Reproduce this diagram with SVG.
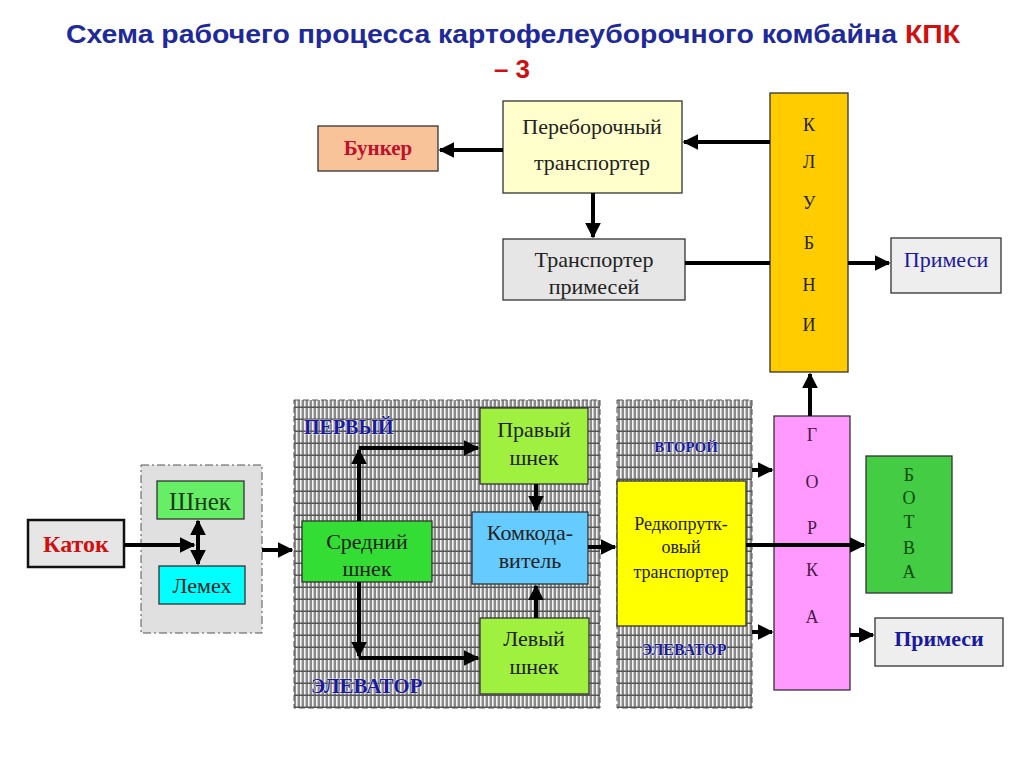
<svg xmlns="http://www.w3.org/2000/svg" width="1024" height="768" viewBox="0 0 1024 768">
<defs>
<pattern id="h" width="4" height="12" patternUnits="userSpaceOnUse"><rect width="4" height="12" fill="#8a8a8a"/><rect x="0" width="1.6" height="12" fill="#f4f4f4"/><rect y="10.5" width="4" height="1.5" fill="#555"/></pattern>
<marker id="a" viewBox="0 0 10 10" refX="9" refY="5" markerWidth="4" markerHeight="4" orient="auto-start-reverse"><path d="M0,0L10,5L0,10z" fill="#000"/></marker>
</defs>
<style>
.b{stroke:#333;stroke-width:1.3}
.t{font-family:"Liberation Serif",serif;font-size:22px;text-anchor:middle;fill:#222}
.l{font-family:"Liberation Serif",serif;font-size:18px;text-anchor:middle}
.c line,.c path{stroke:#000;stroke-width:4;fill:none}
.e{font-family:"Liberation Serif",serif;font-weight:bold;fill:#1a1aa0;stroke:#fff;stroke-width:0.6;paint-order:stroke}
</style>
<rect width="1024" height="768" fill="#fff"/>
<text x="66" y="43" textLength="894" lengthAdjust="spacingAndGlyphs" font-family="Liberation Sans,sans-serif" font-weight="bold" font-size="26" fill="#1f2a9a">Схема рабочего процесса картофелеуборочного комбайна <tspan fill="#d01010">КПК</tspan></text>
<text x="512" y="78" font-family="Liberation Sans,sans-serif" font-weight="bold" font-size="26" fill="#d01010" text-anchor="middle">– 3</text>
<g id="elev1"><rect x="294" y="400" width="306" height="308" fill="url(#h)" stroke="#555" stroke-dasharray="6,3"/>
<text class="e" x="304" y="434" font-size="20">ПЕРВЫЙ</text><text class="e" x="311" y="693" font-size="21">ЭЛЕВАТОР</text></g>
<g id="elev2"><rect x="617" y="400" width="135" height="308" fill="url(#h)" stroke="#555" stroke-dasharray="6,3"/>
<text class="e" x="686" y="452" font-size="15" text-anchor="middle">ВТОРОЙ</text><text class="e" x="684" y="655" font-size="16" text-anchor="middle">ЭЛЕВАТОР</text></g>
<g id="grp"><rect x="141" y="465" width="121" height="168" fill="#e0e0e0" stroke="#555" stroke-dasharray="8,3,2,3"/></g>
<g id="bunker"><rect class="b" x="318" y="126" width="120" height="45" fill="#f9c39a"/><text x="378" y="155" font-family="Liberation Serif,serif" font-weight="bold" font-size="21" fill="#c0102a" text-anchor="middle">Бункер</text></g>
<g id="perebor"><rect class="b" x="503" y="101" width="179" height="92" fill="#ffffcc"/><text class="t" x="592" y="134">Переборочный</text><text class="t" x="592" y="170">транспортер</text></g>
<g id="trpr"><rect class="b" x="503" y="239" width="182" height="61" fill="#e6e6e6"/><text class="t" x="594" y="267">Транспортер</text><text class="t" x="594" y="294">примесей</text></g>
<g id="klubni"><rect class="b" x="770" y="93" width="78" height="279" fill="#ffcc00"/>
<g class="l" fill="#222"><text x="809" y="131">К</text><text x="809" y="168">Л</text><text x="809" y="209">У</text><text x="809" y="249">Б</text><text x="809" y="291">Н</text><text x="809" y="331">И</text></g></g>
<g id="prim1"><rect class="b" x="891" y="238" width="110" height="55" fill="#eeeeee"/><text x="946" y="267" font-family="Liberation Serif,serif" font-size="22" fill="#1a1aa0" text-anchor="middle">Примеси</text></g>
<g id="gorka"><rect class="b" x="774" y="416" width="76" height="274" fill="#ff99ff"/>
<g class="l" fill="#4a1a4a"><text x="812" y="441">Г</text><text x="812" y="488">О</text><text x="812" y="534">Р</text><text x="812" y="576">К</text><text x="812" y="623">А</text></g></g>
<g id="botva"><rect class="b" x="866" y="456" width="86" height="137" fill="#44cc44"/>
<g class="l" fill="#0a4a0a"><text x="909" y="481">Б</text><text x="909" y="504">О</text><text x="909" y="528">Т</text><text x="909" y="554">В</text><text x="909" y="578">А</text></g></g>
<g id="prim2"><rect class="b" x="875" y="618" width="128" height="48" fill="#eeeeee"/><text x="939" y="646" font-family="Liberation Serif,serif" font-weight="bold" font-size="22" fill="#1a1aa0" text-anchor="middle">Примеси</text></g>
<g id="redko"><rect class="b" x="617" y="481" width="129" height="145" fill="#ffff00"/><text class="l" font-size="20" fill="#222" x="681" y="530">Редкопрутк-</text><text class="l" font-size="20" fill="#222" x="681" y="553">овый</text><text class="l" font-size="20" fill="#222" x="681" y="578">транспортер</text></g>
<g id="pravy"><rect class="b" x="480" y="408" width="108" height="76" fill="#a0f040"/><text class="t" x="534" y="437">Правый</text><text class="t" x="534" y="465">шнек</text></g>
<g id="komko"><rect class="b" x="472" y="512" width="116" height="72" fill="#66ccff"/><text class="t" x="530" y="540">Комкода-</text><text class="t" x="530" y="568">витель</text></g>
<g id="levy"><rect class="b" x="480" y="618" width="109" height="76" fill="#a0f040"/><text class="t" x="534" y="646">Левый</text><text class="t" x="534" y="674">шнек</text></g>
<g id="sredny"><rect class="b" x="302" y="521" width="130" height="61" fill="#33dd33"/><text class="t" x="367" y="549">Средний</text><text class="t" x="367" y="576">шнек</text></g>
<g id="shnek"><rect class="b" x="157" y="481" width="87" height="38" fill="#66ee66"/><text x="200" y="510" font-family="Liberation Serif,serif" font-size="25" fill="#1a3a1a" text-anchor="middle">Шнек</text></g>
<g id="lemeh"><rect class="b" x="159" y="566" width="86" height="38" fill="#00ffff"/><text class="t" x="202" y="593">Лемех</text></g>
<g id="katok"><rect x="28" y="520" width="96" height="47" fill="#e6e6e6" stroke="#111" stroke-width="2.5"/><text x="76" y="552" font-family="Liberation Serif,serif" font-weight="bold" font-size="24" fill="#d01010" text-anchor="middle">Каток</text></g>
<g class="c" id="connectors">
<line x1="770" y1="142" x2="684" y2="142" marker-end="url(#a)"/>
<line x1="503" y1="150" x2="440" y2="150" marker-end="url(#a)"/>
<line x1="593" y1="193" x2="593" y2="237" marker-end="url(#a)"/>
<line x1="685" y1="263" x2="770" y2="263"/>
<line x1="848" y1="263" x2="889" y2="263" marker-end="url(#a)"/>
<line x1="810" y1="416" x2="810" y2="374" marker-end="url(#a)"/>
<line x1="752" y1="470" x2="772" y2="470" marker-end="url(#a)"/>
<line x1="752" y1="632" x2="772" y2="632" marker-end="url(#a)"/>
<line x1="850" y1="635" x2="873" y2="635" marker-end="url(#a)"/>
<line x1="746" y1="545" x2="864" y2="545" marker-end="url(#a)"/>
<line x1="124" y1="545" x2="194" y2="545" marker-end="url(#a)"/>
<line x1="198" y1="521" x2="198" y2="564" marker-start="url(#a)" marker-end="url(#a)"/>
<line x1="262" y1="550" x2="292" y2="550" marker-end="url(#a)"/>
<line x1="359" y1="521" x2="359" y2="450" marker-end="url(#a)"/>
<line x1="359" y1="448" x2="478" y2="448" marker-end="url(#a)"/>
<line x1="359" y1="582" x2="359" y2="656" marker-end="url(#a)"/>
<line x1="359" y1="658" x2="478" y2="658" marker-end="url(#a)"/>
<line x1="536" y1="484" x2="536" y2="510" marker-end="url(#a)"/>
<line x1="536" y1="618" x2="536" y2="586" marker-end="url(#a)"/>
<line x1="588" y1="547" x2="615" y2="547" marker-end="url(#a)"/>
</g>
</svg>
